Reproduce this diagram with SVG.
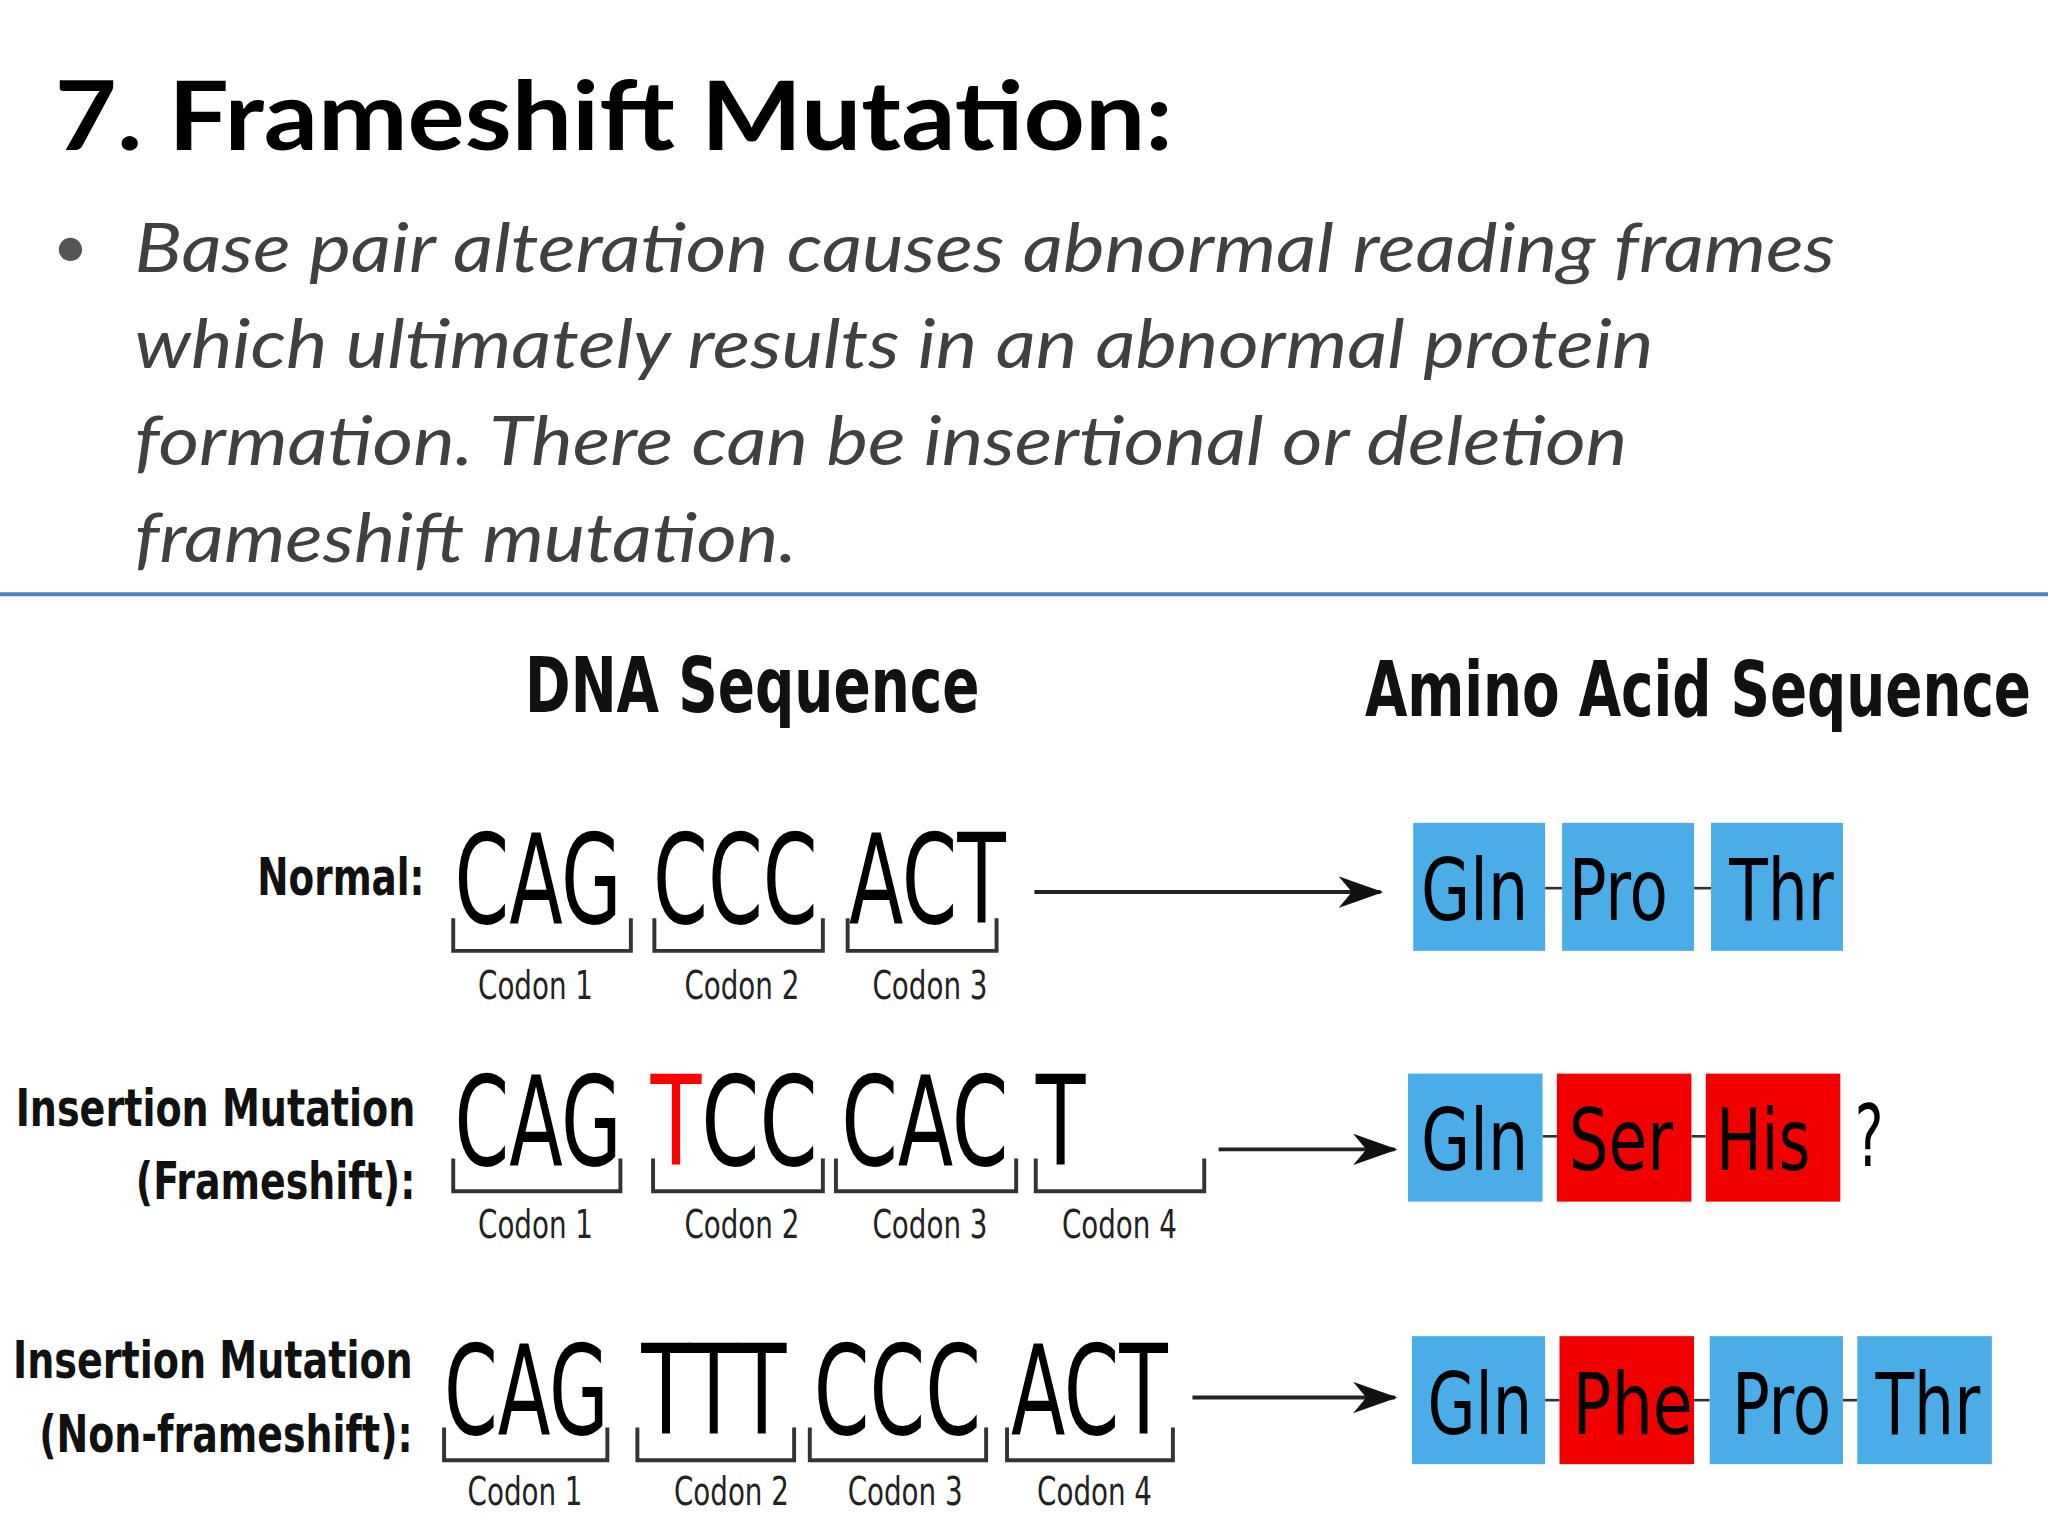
<svg xmlns="http://www.w3.org/2000/svg" width="2048" height="1536" viewBox="0 0 2048 1536">
<defs>
<style>
.t{font-family:"Lato","Open Sans",sans-serif;font-weight:bold;fill:#000}
.b{font-family:"Lato","Open Sans",sans-serif;font-style:italic;fill:#404040}
.h{font-family:"DejaVu Sans Condensed","DejaVu Sans",sans-serif;font-weight:bold;fill:#111}
.dna{font-family:"DejaVu Sans Condensed","DejaVu Sans",sans-serif;font-size:96px;fill:#000}
.cod{font-family:"DejaVu Sans Condensed","DejaVu Sans",sans-serif;font-size:30px;fill:#222}
.aa{font-family:"DejaVu Sans Condensed","DejaVu Sans",sans-serif;font-size:66px;fill:#000}
.br{fill:none;stroke:#333;stroke-width:3}
.ar{stroke:#222;stroke-width:3;fill:none}
.bl{fill:#4AADE8}.rd{fill:#F20000}
.ds{stroke:#333;stroke-width:2}
</style>
<marker id="m" markerWidth="34" markerHeight="24" refX="32" refY="12" orient="auto" markerUnits="userSpaceOnUse" viewBox="0 0 34 24"><path d="M0,0 L34,12 L0,24 L10,12 Z" fill="#111"/></marker>
</defs>
<rect width="2048" height="1536" fill="#fff"/>
<g transform="scale(1.30612)">
<g id="title"><text class="t" x="42" y="115" font-size="74" textLength="856" lengthAdjust="spacingAndGlyphs">7. Frameshift Mutation:</text></g>
<g id="bullet">
<text x="40" y="205" font-family="Lato,sans-serif" font-size="48" fill="#555">•</text>
<text class="b" x="103" y="208" font-size="52" textLength="1302" lengthAdjust="spacingAndGlyphs">Base pair alteration causes abnormal reading frames</text>
<text class="b" x="103" y="282" font-size="52" textLength="1163" lengthAdjust="spacingAndGlyphs">which ultimately results in an abnormal protein</text>
<text class="b" x="103" y="356" font-size="52" textLength="1143" lengthAdjust="spacingAndGlyphs">formation. There can be insertional or deletion</text>
<text class="b" x="103" y="430" font-size="52" textLength="507" lengthAdjust="spacingAndGlyphs">frameshift mutation.</text>
</g>
<line x1="0" y1="455" x2="1568" y2="455" stroke="#4F81BD" stroke-width="3"/>
<g id="headers">
<text class="h" x="402" y="545" font-size="58" textLength="348" lengthAdjust="spacingAndGlyphs">DNA Sequence</text>
<text class="h" x="1045" y="548" font-size="58" textLength="510" lengthAdjust="spacingAndGlyphs">Amino Acid Sequence</text>
</g>
<g id="row1">
<text class="h" x="197" y="685" font-size="40" textLength="128" lengthAdjust="spacingAndGlyphs">Normal:</text>
<text class="dna" x="348" y="707" textLength="128" lengthAdjust="spacingAndGlyphs">CAG</text>
<text class="dna" x="500" y="707" textLength="126" lengthAdjust="spacingAndGlyphs">CCC</text>
<text class="dna" x="650" y="707" textLength="120" lengthAdjust="spacingAndGlyphs">ACT</text>
<path class="br" d="M347,703V728H483V703M501,703V728H630V703M649,703V728H763V703"/>
<text class="cod" x="366" y="765" textLength="88" lengthAdjust="spacingAndGlyphs">Codon 1</text><text class="cod" x="524" y="765" textLength="88" lengthAdjust="spacingAndGlyphs">Codon 2</text><text class="cod" x="668" y="765" textLength="88" lengthAdjust="spacingAndGlyphs">Codon 3</text>
</g>
<g id="row2">
<text class="h" x="12" y="862" font-size="40" textLength="306" lengthAdjust="spacingAndGlyphs">Insertion Mutation</text>
<text class="h" x="104" y="918" font-size="40" textLength="214" lengthAdjust="spacingAndGlyphs">(Frameshift):</text>
<text class="dna" x="348" y="892" textLength="128" lengthAdjust="spacingAndGlyphs">CAG</text>
<text class="dna" x="498" y="892" textLength="128" lengthAdjust="spacingAndGlyphs"><tspan fill="#F00">T</tspan>CC</text>
<text class="dna" x="644" y="892" textLength="128" lengthAdjust="spacingAndGlyphs">CAC</text>
<text class="dna" x="793" y="892" textLength="38" lengthAdjust="spacingAndGlyphs">T</text>
<path class="br" d="M347,887V912H475V887M500,887V912H630V887M640,887V912H778V887M793,887V912H922V887"/>
<text class="cod" x="366" y="948" textLength="88" lengthAdjust="spacingAndGlyphs">Codon 1</text><text class="cod" x="524" y="948" textLength="88" lengthAdjust="spacingAndGlyphs">Codon 2</text><text class="cod" x="668" y="948" textLength="88" lengthAdjust="spacingAndGlyphs">Codon 3</text><text class="cod" x="813" y="948" textLength="88" lengthAdjust="spacingAndGlyphs">Codon 4</text>
</g>
<g id="row3">
<text class="h" x="10" y="1055" font-size="40" textLength="306" lengthAdjust="spacingAndGlyphs">Insertion Mutation</text>
<text class="h" x="30" y="1112" font-size="40" textLength="286" lengthAdjust="spacingAndGlyphs">(Non-frameshift):</text>
<text class="dna" x="340" y="1098" textLength="126" lengthAdjust="spacingAndGlyphs">CAG</text>
<text class="dna" x="491" y="1098" textLength="111" lengthAdjust="spacingAndGlyphs" fill="#F00">TTT</text>
<text class="dna" x="623" y="1098" textLength="128" lengthAdjust="spacingAndGlyphs">CCC</text>
<text class="dna" x="774" y="1098" textLength="120" lengthAdjust="spacingAndGlyphs">ACT</text>
<path class="br" d="M340,1093V1118H465V1093M488,1093V1118H608V1093M620,1093V1118H755V1093M771,1093V1118H898V1093"/>
<text class="cod" x="358" y="1152" textLength="88" lengthAdjust="spacingAndGlyphs">Codon 1</text><text class="cod" x="516" y="1152" textLength="88" lengthAdjust="spacingAndGlyphs">Codon 2</text><text class="cod" x="649" y="1152" textLength="88" lengthAdjust="spacingAndGlyphs">Codon 3</text><text class="cod" x="794" y="1152" textLength="88" lengthAdjust="spacingAndGlyphs">Codon 4</text>
</g>
<g id="connectors">
<line class="ar" x1="792" y1="683" x2="1057" y2="683" marker-end="url(#m)"/>
<line class="ar" x1="933" y1="880" x2="1068" y2="880" stroke="#666" stroke-width="4" marker-end="url(#m)"/>
<line class="ar" x1="913" y1="1070" x2="1068" y2="1070" stroke-width="4" marker-end="url(#m)"/>
</g>
<g id="aa1">
<line class="ds" x1="1183" y1="680" x2="1196" y2="680"/><line class="ds" x1="1297" y1="680" x2="1310" y2="680"/>
<rect class="bl" x="1082" y="630" width="101" height="98"/><rect class="bl" x="1196" y="630" width="101" height="98"/><rect class="bl" x="1310" y="630" width="101" height="98"/>
<text class="aa" x="1088" y="704" textLength="82" lengthAdjust="spacingAndGlyphs">Gln</text>
<text class="aa" x="1201" y="704" textLength="76" lengthAdjust="spacingAndGlyphs">Pro</text>
<text class="aa" x="1324" y="704" textLength="80" lengthAdjust="spacingAndGlyphs">Thr</text>
</g>
<g id="aa2">
<line class="ds" x1="1181" y1="870" x2="1192" y2="870"/><line class="ds" x1="1295" y1="870" x2="1306" y2="870"/>
<rect class="bl" x="1078" y="822" width="103" height="98"/><rect class="rd" x="1192" y="822" width="103" height="98"/><rect class="rd" x="1306" y="822" width="103" height="98"/>
<text class="aa" x="1088" y="896" textLength="82" lengthAdjust="spacingAndGlyphs">Gln</text>
<text class="aa" x="1201" y="896" textLength="80" lengthAdjust="spacingAndGlyphs">Ser</text>
<text class="aa" x="1314" y="896" textLength="72" lengthAdjust="spacingAndGlyphs">His</text>
<text class="aa" x="1420" y="893" font-size="56" textLength="22" lengthAdjust="spacingAndGlyphs">?</text>
</g>
<g id="aa3">
<line class="ds" x1="1183" y1="1072" x2="1194" y2="1072"/><line class="ds" x1="1297" y1="1072" x2="1309" y2="1072"/><line class="ds" x1="1411" y1="1072" x2="1422" y2="1072"/>
<rect class="bl" x="1081" y="1023" width="102" height="98"/><rect class="rd" x="1194" y="1023" width="103" height="98"/><rect class="bl" x="1309" y="1023" width="102" height="98"/><rect class="bl" x="1422" y="1023" width="103" height="98"/>
<text class="aa" x="1093" y="1098" textLength="80" lengthAdjust="spacingAndGlyphs">Gln</text>
<text class="aa" x="1204" y="1098" textLength="92" lengthAdjust="spacingAndGlyphs">Phe</text>
<text class="aa" x="1326" y="1098" textLength="76" lengthAdjust="spacingAndGlyphs">Pro</text>
<text class="aa" x="1436" y="1098" textLength="80" lengthAdjust="spacingAndGlyphs">Thr</text>
</g>
</g>
</svg>
